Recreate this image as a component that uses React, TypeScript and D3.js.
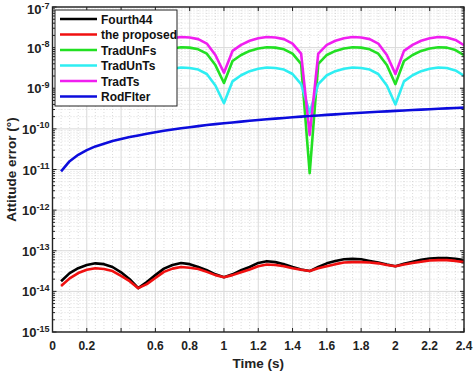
import React from "react";
import * as d3 from "d3";

// sample times (s)
const timeS = [
  0.05, 0.1, 0.15, 0.2, 0.25, 0.3, 0.35, 0.4, 0.45, 0.5,
  0.55, 0.6, 0.65, 0.7, 0.75, 0.8, 0.85, 0.9, 0.95, 1.0,
  1.05, 1.1, 1.15, 1.2, 1.25, 1.3, 1.35, 1.4, 1.45, 1.5,
  1.55, 1.6, 1.65, 1.7, 1.75, 1.8, 1.85, 1.9, 1.95, 2.0,
  2.05, 2.1, 2.15, 2.2, 2.25, 2.3, 2.35, 2.4,
];

const fourth44 = [
  1.78e-14, 2.82e-14, 3.72e-14, 4.47e-14, 4.9e-14, 4.68e-14, 3.98e-14, 2.95e-14, 2.0e-14, 1.2e-14,
  1.7e-14, 2.51e-14, 3.63e-14, 4.47e-14, 5.01e-14, 4.68e-14, 3.98e-14, 3.31e-14, 2.63e-14, 2.24e-14,
  2.63e-14, 3.31e-14, 3.98e-14, 5.01e-14, 5.5e-14, 5.25e-14, 4.68e-14, 3.98e-14, 3.47e-14, 3.16e-14,
  3.98e-14, 4.9e-14, 5.62e-14, 6.17e-14, 6.31e-14, 6.17e-14, 5.62e-14, 5.13e-14, 4.57e-14, 4.17e-14,
  4.79e-14, 5.37e-14, 6.03e-14, 6.46e-14, 6.61e-14, 6.61e-14, 6.31e-14, 5.89e-14,
];

const proposed = [
  1.35e-14, 2.09e-14, 2.82e-14, 3.39e-14, 3.72e-14, 3.55e-14, 3.16e-14, 2.4e-14, 1.78e-14, 1.2e-14,
  1.51e-14, 2.14e-14, 3.02e-14, 3.63e-14, 3.98e-14, 3.8e-14, 3.55e-14, 3.02e-14, 2.51e-14, 2.24e-14,
  2.51e-14, 2.95e-14, 3.47e-14, 4.17e-14, 4.57e-14, 4.47e-14, 4.17e-14, 3.72e-14, 3.39e-14, 3.16e-14,
  3.72e-14, 4.17e-14, 4.68e-14, 5.13e-14, 5.25e-14, 5.25e-14, 5.13e-14, 4.9e-14, 4.47e-14, 4.17e-14,
  4.57e-14, 5.01e-14, 5.37e-14, 5.75e-14, 5.89e-14, 5.89e-14, 5.62e-14, 5.25e-14,
];

const tradUnFs = [
  4.47e-9, 6.6e-9, 8.3e-9, 9.5e-9, 1.02e-8, 1.0e-8, 9.1e-9, 7.4e-9, 4.27e-9, 1.35e-9,
  4.68e-9, 6.6e-9, 8.3e-9, 9.5e-9, 1.02e-8, 1.0e-8, 9.1e-9, 7.1e-9, 3.72e-9, 1.35e-9,
  4.68e-9, 6.6e-9, 8.3e-9, 9.5e-9, 1.02e-8, 1.0e-8, 9.1e-9, 7.1e-9, 3.98e-9, 8.1e-12,
  3.98e-9, 6.6e-9, 8.3e-9, 9.5e-9, 1.02e-8, 1.0e-8, 9.1e-9, 7.1e-9, 3.72e-9, 1.26e-9,
  4.68e-9, 6.6e-9, 8.3e-9, 9.5e-9, 1.02e-8, 1.0e-8, 8.7e-9, 6.5e-9,
];

const tradUnTs = [
  1.41e-9, 2.09e-9, 2.63e-9, 3.02e-9, 3.24e-9, 3.16e-9, 2.88e-9, 2.34e-9, 1.35e-9, 4.27e-10,
  1.48e-9, 2.09e-9, 2.63e-9, 3.02e-9, 3.24e-9, 3.16e-9, 2.88e-9, 2.24e-9, 1.17e-9, 4.27e-10,
  1.48e-9, 2.09e-9, 2.63e-9, 3.02e-9, 3.24e-9, 3.16e-9, 2.88e-9, 2.24e-9, 1.26e-9, 2.5e-10,
  1.26e-9, 2.09e-9, 2.63e-9, 3.02e-9, 3.24e-9, 3.16e-9, 2.88e-9, 2.24e-9, 1.17e-9, 3.98e-10,
  1.48e-9, 2.09e-9, 2.63e-9, 3.02e-9, 3.24e-9, 3.16e-9, 2.75e-9, 2.04e-9,
];

const tradTs = [
  7.9e-9, 1.17e-8, 1.48e-8, 1.7e-8, 1.82e-8, 1.78e-8, 1.62e-8, 1.32e-8, 7.6e-9, 2.4e-9,
  8.3e-9, 1.17e-8, 1.48e-8, 1.7e-8, 1.82e-8, 1.78e-8, 1.62e-8, 1.26e-8, 6.6e-9, 2.4e-9,
  8.3e-9, 1.17e-8, 1.48e-8, 1.7e-8, 1.82e-8, 1.78e-8, 1.62e-8, 1.26e-8, 7.1e-9, 7.1e-11,
  7.1e-9, 1.17e-8, 1.48e-8, 1.7e-8, 1.82e-8, 1.78e-8, 1.62e-8, 1.26e-8, 6.6e-9, 2.24e-9,
  8.3e-9, 1.17e-8, 1.48e-8, 1.7e-8, 1.82e-8, 1.78e-8, 1.55e-8, 1.15e-8,
];

const rodFlter = [
  9.0e-12, 1.6e-11, 2.3e-11, 3.0e-11, 3.7e-11, 4.3e-11, 5.0e-11, 5.6e-11, 6.3e-11, 6.9e-11,
  7.6e-11, 8.3e-11, 9.0e-11, 9.7e-11, 1.04e-10, 1.1e-10, 1.17e-10, 1.24e-10, 1.31e-10, 1.37e-10,
  1.44e-10, 1.51e-10, 1.58e-10, 1.65e-10, 1.72e-10, 1.79e-10, 1.86e-10, 1.93e-10, 2.0e-10, 2.07e-10,
  2.14e-10, 2.21e-10, 2.28e-10, 2.35e-10, 2.42e-10, 2.49e-10, 2.56e-10, 2.63e-10, 2.7e-10, 2.77e-10,
  2.84e-10, 2.91e-10, 2.98e-10, 3.05e-10, 3.12e-10, 3.19e-10, 3.26e-10, 3.33e-10,
];

const seriesNames = ["Fourth44", "the proposed", "TradUnFs", "TradUnTs", "TradTs", "RodFlter"];
const seriesValues = [fourth44, proposed, tradUnFs, tradUnTs, tradTs, rodFlter];
const seriesColors = ["#000000", "#f01010", "#22e022", "#2eeef2", "#f01ef0", "#0c0cdc"];

const xTicks = [0, 0.2, 0.4, 0.6, 0.8, 1.0, 1.2, 1.4, 1.6, 1.8, 2.0, 2.2, 2.4];
const xTickLabels = ["0", "0.2", "", "0.6", "0.8", "1", "1.2", "1.4", "1.6", "1.8", "2", "2.2", "2.4"];
const yExponents = [-7, -8, -9, -10, -11, -12, -13, -14, -15];

const W = 474;
const H = 372;
const left = 52.5;
const right = 464;
const top = 7;
const bottom = 332;
const font = "Arial, 'Liberation Sans', sans-serif";

export default function App() {
  const x = d3.scaleLinear().domain([0, 2.4]).range([left, right]);
  const y = d3.scaleLog().domain([1e-15, 1e-7]).range([bottom, top]);

  const line = d3
    .line<number>()
    .x((_d, i) => x(timeS[i]))
    .y((d) => y(d));

  // minor grid positions
  const xMinor: number[] = [];
  for (let k = 1; k < 48; k++) {
    if (k % 4 !== 0) xMinor.push(k * 0.05);
  }
  const yMinor: number[] = [];
  for (let e = -15; e < -7; e++) {
    for (let m = 2; m <= 9; m++) yMinor.push(m * Math.pow(10, e));
  }

  return (
    <svg
      width={W}
      height={H}
      style={{ position: "absolute", left: 0, top: 0, background: "#fff" }}
      fontFamily={font}
    >
      <defs>
        <clipPath id="plot-clip">
          <rect x={left} y={top} width={right - left} height={bottom - top} />
        </clipPath>
      </defs>

      {/* minor grid */}
      <g stroke="#c4c4c4" strokeWidth={0.6} strokeDasharray="1,2">
        {yMinor.map((v, i) => (
          <line key={"ym" + i} x1={left} x2={right} y1={y(v)} y2={y(v)} />
        ))}
        {xMinor.map((v, i) => (
          <line key={"xm" + i} x1={x(v)} x2={x(v)} y1={top} y2={bottom} />
        ))}
      </g>

      {/* major grid */}
      <g stroke="#d9d9d9" strokeWidth={1}>
        {yExponents.map((e) => (
          <line key={"yg" + e} x1={left} x2={right} y1={y(Math.pow(10, e))} y2={y(Math.pow(10, e))} />
        ))}
        {xTicks.map((t) => (
          <line key={"xg" + t} x1={x(t)} x2={x(t)} y1={top} y2={bottom} />
        ))}
      </g>

      {/* data */}
      <g clipPath="url(#plot-clip)" fill="none" strokeWidth={2.6} strokeLinejoin="round">
        {seriesValues.map((vals, i) => (
          <path key={seriesNames[i]} d={line(vals) || ""} stroke={seriesColors[i]} />
        ))}
      </g>

      {/* axes box and ticks */}
      <g stroke="#222" strokeWidth={1}>
        {xTicks.map((t) => (
          <g key={"xt" + t}>
            <line x1={x(t)} x2={x(t)} y1={bottom} y2={bottom - 4} />
            <line x1={x(t)} x2={x(t)} y1={top} y2={top + 4} />
          </g>
        ))}
        {yExponents.map((e) => (
          <g key={"yt" + e}>
            <line x1={left} x2={left + 4} y1={y(Math.pow(10, e))} y2={y(Math.pow(10, e))} />
            <line x1={right} x2={right - 4} y1={y(Math.pow(10, e))} y2={y(Math.pow(10, e))} />
          </g>
        ))}
        {yMinor.map((v, i) => (
          <g key={"ymt" + i}>
            <line x1={left} x2={left + 2.5} y1={y(v)} y2={y(v)} />
            <line x1={right} x2={right - 2.5} y1={y(v)} y2={y(v)} />
          </g>
        ))}
      </g>
      <rect x={left} y={top} width={right - left} height={bottom - top} fill="none" stroke="#222" strokeWidth={1.4} />

      {/* tick labels */}
      <g fontWeight="bold" fontSize={12} fill="#222" textAnchor="middle">
        {xTicks.map((t, i) => (
          <text key={"xl" + t} x={x(t)} y={bottom + 18}>
            {xTickLabels[i]}
          </text>
        ))}
      </g>
      <g fontWeight="bold" fill="#222" textAnchor="end">
        {yExponents.map((e) => (
          <text key={"yl" + e} x={left - 3} y={Math.max(y(Math.pow(10, e)) + 5, 14)} fontSize={13}>
            10
            <tspan dy={-5.5} fontSize={9}>
              {String(e)}
            </tspan>
          </text>
        ))}
      </g>

      {/* axis titles */}
      <text x={(left + right) / 2} y={368} textAnchor="middle" fontWeight="bold" fontSize={13.5} fill="#222">
        Time (s)
      </text>
      <text
        transform={`translate(16, ${(top + bottom) / 2}) rotate(-90)`}
        textAnchor="middle"
        fontWeight="bold"
        fontSize={13.5}
        fill="#222"
      >
        Attitude error (°)
      </text>

      {/* legend */}
      <g>
        <rect x={55} y={10} width={122} height={96} fill="#fff" stroke="#222" strokeWidth={1} />
        {seriesNames.map((name, i) => (
          <g key={"lg" + name} transform={`translate(0, ${19 + i * 15.5})`}>
            <line x1={60} x2={97} y1={0} y2={0} stroke={seriesColors[i]} strokeWidth={2.6} />
            <text x={101} y={4.5} fontSize={12} fontWeight="bold" fill="#111">
              {name}
            </text>
          </g>
        ))}
      </g>
    </svg>
  );
}
